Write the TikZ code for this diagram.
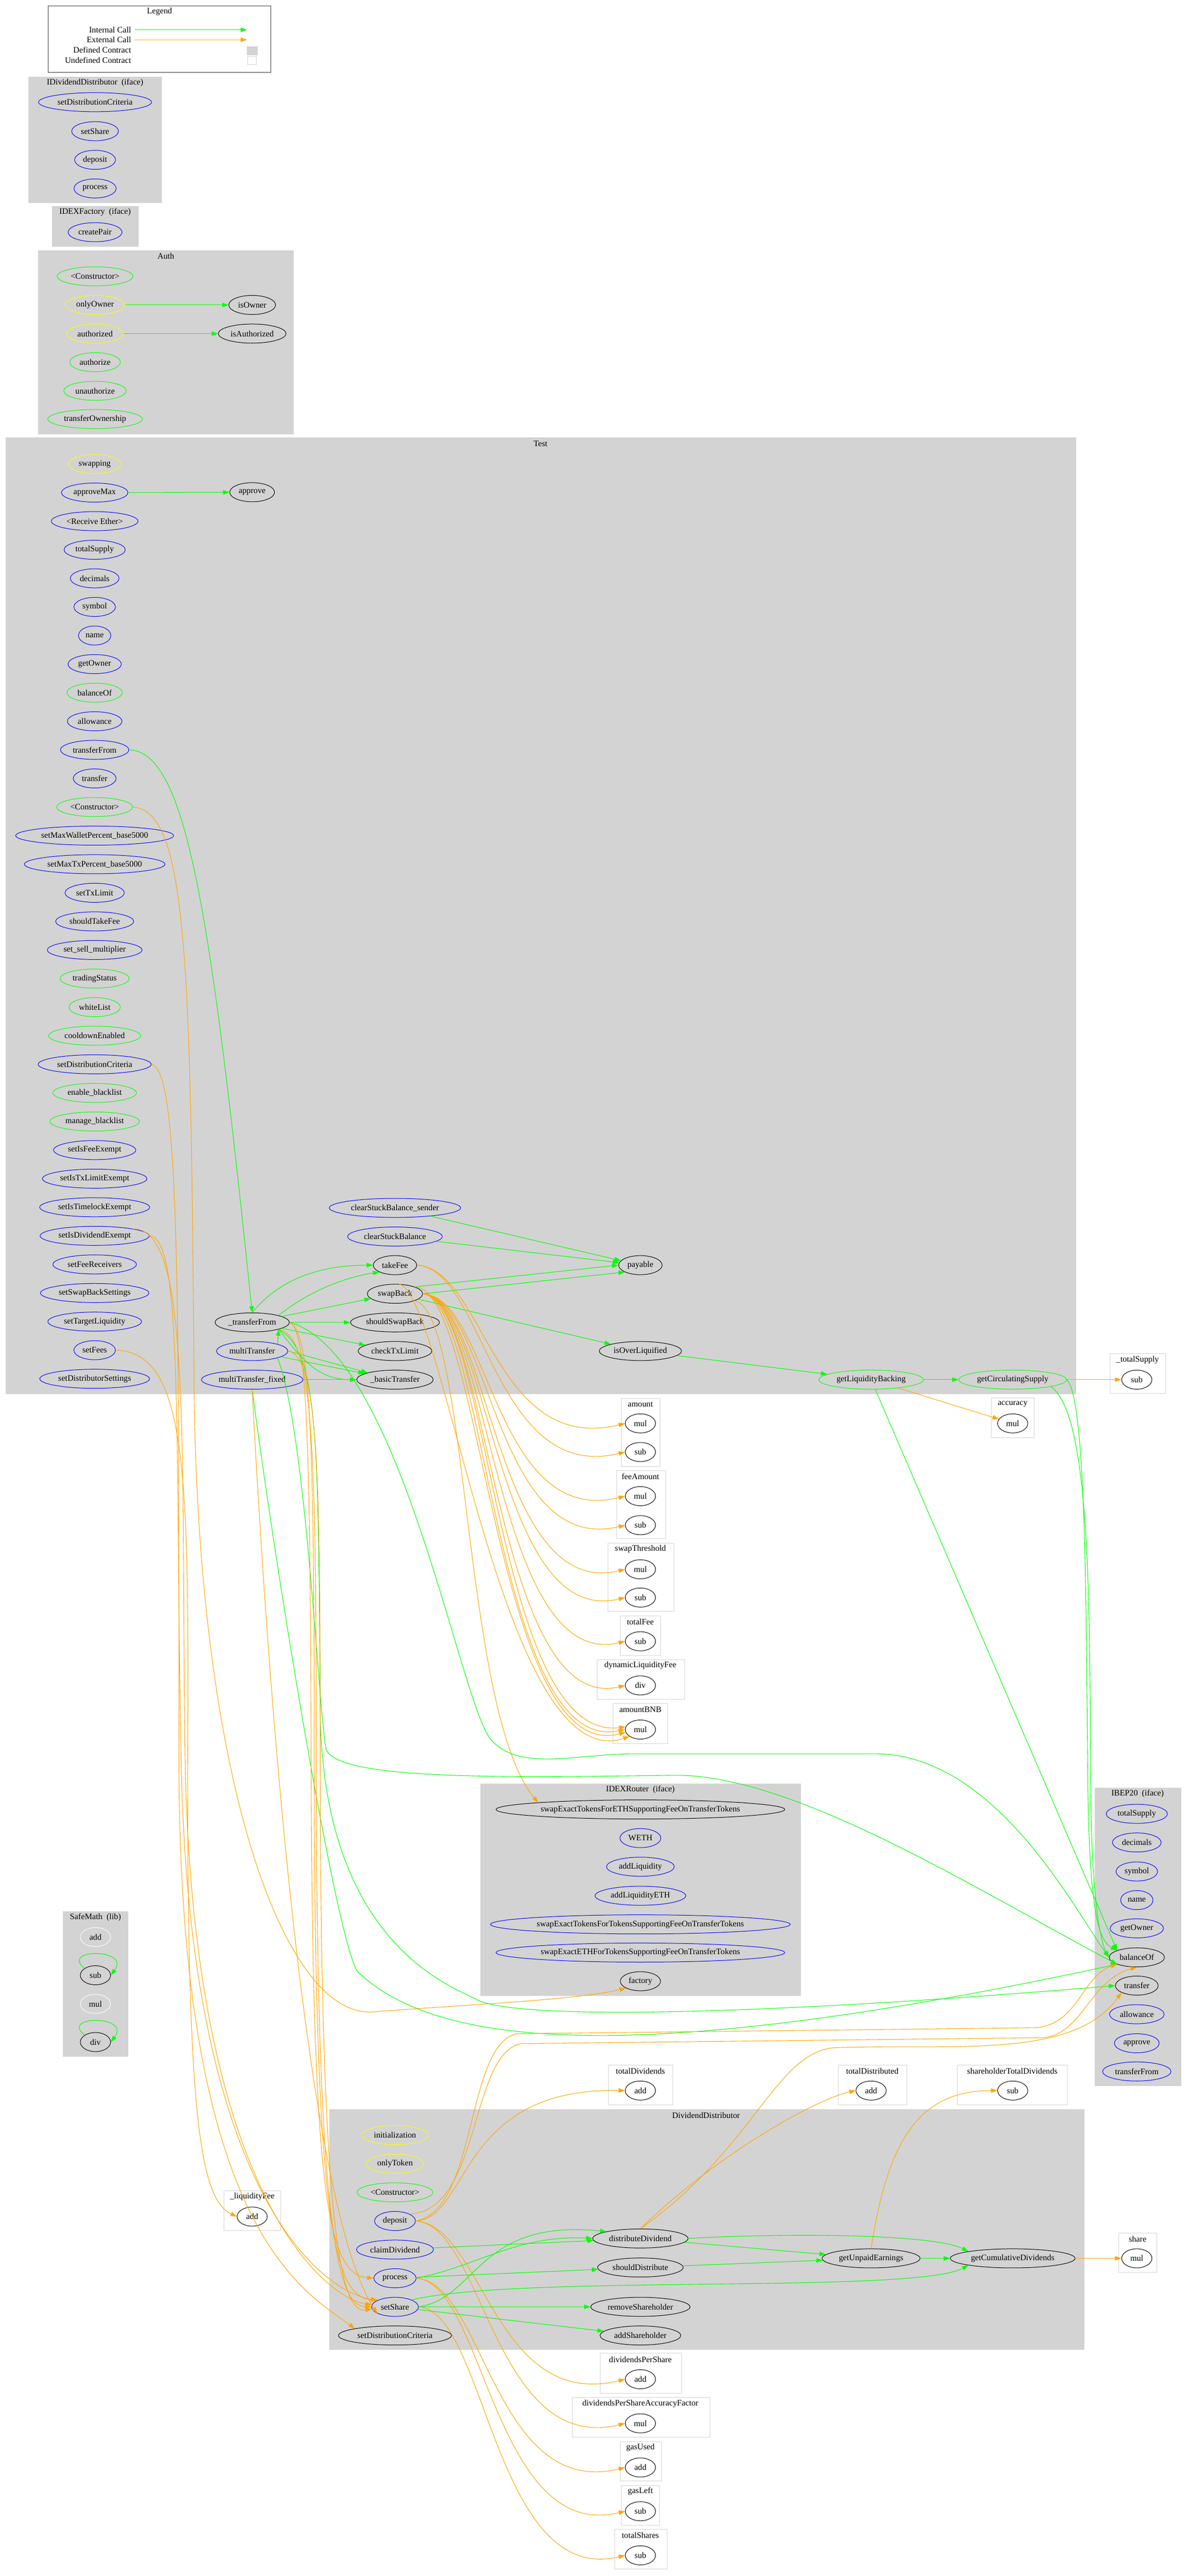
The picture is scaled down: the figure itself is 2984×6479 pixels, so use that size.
\documentclass[tikz,border=0pt]{standalone}
\usepackage{fontspec}
\setmainfont{Liberation Serif}
\usetikzlibrary{arrows.meta,shapes.geometric}
\definecolor{cG}{HTML}{00FF00}
\definecolor{cO}{HTML}{FFA500}
\definecolor{cB}{HTML}{0000FF}
\definecolor{cY}{HTML}{FFFF00}
\definecolor{cL}{HTML}{D3D3D3}
\tikzset{
 fn/.style={ellipse,draw,line width=1.3pt,minimum height=48pt,minimum width=76pt,inner xsep=6pt,inner ysep=2pt,font=\fontsize{21}{24}\selectfont},
 nb/.style={fn,draw=cB}, ng/.style={fn,draw=cG}, ny/.style={fn,draw=cY}, nk/.style={fn,draw=black}, nw/.style={fn,draw=white},
 ic/.style={draw=cG,line width=1.4pt,-{Triangle[length=16pt,width=11pt]}},
 ec/.style={draw=cO,line width=1.4pt,-{Triangle[length=16pt,width=11pt]}},
 clD/.style={fill=cL,draw=cL},
 clU/.style={fill=white,draw=cL,line width=1.2pt},
 lab/.style={font=\fontsize{21}{24}\selectfont}
}
\newcommand\ucall[2]{\draw[ec] (#1.east) .. controls +(170,10) and +(-330,80) .. (#2.west);}
\begin{document}
\begin{tikzpicture}[x=1pt,y=-1pt]
\useasboundingbox (0,0) rectangle (2984,6479);
% Legend
\draw[line width=1.5pt,draw=black!80] (121,15) rectangle (681,182);
\node[lab] at (401,29) {Legend};
\node[lab,anchor=east] at (333,75) {Internal Call};
\node[lab,anchor=east] at (333,100) {External Call};
\node[lab,anchor=east] at (333,126) {Defined Contract};
\node[lab,anchor=east] at (333,151) {Undefined Contract};
\coordinate (la1) at (338,75); \coordinate (lb1) at (621,75);
\coordinate (la2) at (338,100); \coordinate (lb2) at (621,100);
\draw[ic] (la1) -- (lb1);
\draw[ec] (la2) -- (lb2);
\fill[cL] (621,116) rectangle (648,139);
\draw[cL,line width=1.2pt] (623,142) rectangle (645,163);
% clusters
\draw[clD] (71,193) rectangle (406,509); \node[lab] at (239,208) {IDividendDistributor\ \ (iface)};
\draw[clD] (131,519) rectangle (347,620); \node[lab] at (239,533) {IDEXFactory\ \ (iface)};
\draw[clD] (96,630) rectangle (738,1091); \node[lab] at (417,644) {Auth};
\draw[clD] (15,1100) rectangle (2704,3505); \node[lab] at (1359,1116) {Test};
\draw[clU] (2790,3405) rectangle (2931,3505); \node[lab] at (2860,3420) {\_totalSupply};
\draw[clU] (2493,3516) rectangle (2600,3616); \node[lab] at (2546,3531) {accuracy};
\draw[clU] (1562,3517) rectangle (1659,3688); \node[lab] at (1610,3532) {amount};
\draw[clU] (1551,3699) rectangle (1673,3870); \node[lab] at (1610,3714) {feeAmount};
\draw[clU] (1528,3881) rectangle (1694,4053); \node[lab] at (1610,3896) {swapThreshold};
\draw[clU] (1560,4064) rectangle (1661,4164); \node[lab] at (1610,4079) {totalFee};
\draw[clU] (1501,4174) rectangle (1722,4274); \node[lab] at (1610,4189) {dynamicLiquidityFee};
\draw[clU] (1541,4285) rectangle (1678,4385); \node[lab] at (1610,4300) {amountBNB};
\draw[clD] (1208,4486) rectangle (2013,5019); \node[lab] at (1610,4501) {IDEXRouter\ \ (iface)};
\draw[clD] (2752,4497) rectangle (2969,5245); \node[lab] at (2860,4511) {IBEP20\ \ (iface)};
\draw[clD] (158,4808) rectangle (322,5172); \node[lab] at (240,4822) {SafeMath\ \ (lib)};
\draw[clU] (563,5510) rectangle (706,5610); \node[lab] at (634,5525) {\_liquidityFee};
\draw[clU] (1530,5194) rectangle (1692,5294); \node[lab] at (1610,5209) {totalDividends};
\draw[clU] (2107,5194) rectangle (2280,5294); \node[lab] at (2193,5209) {totalDistributed};
\draw[clU] (2407,5194) rectangle (2683,5294); \node[lab] at (2545,5209) {shareholderTotalDividends};
\draw[clD] (828,5305) rectangle (2725,5909); \node[lab] at (1775,5320) {DividendDistributor};
\draw[clU] (2813,5616) rectangle (2908,5715); \node[lab] at (2860,5631) {share};
\draw[clU] (1509,5919) rectangle (1713,6019); \node[lab] at (1610,5934) {dividendsPerShare};
\draw[clU] (1439,6030) rectangle (1785,6130); \node[lab] at (1610,6045) {dividendsPerShareAccuracyFactor};
\draw[clU] (1559,6141) rectangle (1663,6240); \node[lab] at (1610,6156) {gasUsed};
\draw[clU] (1562,6251) rectangle (1658,6351); \node[lab] at (1610,6266) {gasLeft};
\draw[clU] (1545,6362) rectangle (1677,6462); \node[lab] at (1610,6377) {totalShares};
% IDividendDistributor
\node[nb] (idSdc) at (239,257) {setDistributionCriteria};
\node[nb] (idSs) at (239,330) {setShare};
\node[nb] (idDep) at (239,402) {deposit};
\node[nb] (idPr) at (239,474) {process};
\node[nb] (ifCp) at (239,584) {createPair};
% Auth
\node[ng] (aC) at (239,695) {<Constructor>};
\node[ny] (aOO) at (239,767) {onlyOwner};
\node[ny] (aAu) at (239,839) {authorized};
\node[ng] (aA) at (239,911) {authorize};
\node[ng] (aU) at (239,983) {unauthorize};
\node[ng] (aTO) at (239,1054) {transferOwnership};
\node[nk] (aIO) at (634,767) {isOwner};
\node[nk] (aIA) at (634,839) {isAuthorized};
% Test column
\foreach \n/\t/\c [count=\i from 0] in {
 swp/swapping/ny, aMax/approveMax/nb, rcv/<Receive Ether>/nb, tSup/totalSupply/nb, dec/decimals/nb,
 sym/symbol/nb, nam/name/nb, gOw/getOwner/nb, bal/balanceOf/ng, alw/allowance/nb,
 tFrom/transferFrom/nb, trn/transfer/nb, ctor/<Constructor>/ng, smw/setMaxWalletPercent\_base5000/nb,
 smt/setMaxTxPercent\_base5000/nb, stl/setTxLimit/nb, stf/shouldTakeFee/nb, ssm/set\_sell\_multiplier/nb,
 trs/tradingStatus/ng, wl/whiteList/ng, cde/cooldownEnabled/ng, sdc/setDistributionCriteria/nb,
 ebl/enable\_blacklist/ng, mbl/manage\_blacklist/ng, sfe/setIsFeeExempt/nb, stle/setIsTxLimitExempt/nb,
 stie/setIsTimelockExempt/nb, sde/setIsDividendExempt/nb, sfr/setFeeReceivers/nb, ssb/setSwapBackSettings/nb,
 stgl/setTargetLiquidity/nb, sfs/setFees/nb, sds/setDistributorSettings/nb}
 { \node[\c] (t\n) at (238,{1167+71.9*\i}) {\t}; }
\node[nk] (appr) at (634,1238) {approve};
\node[nk] (tf) at (634,3326) {\_transferFrom};
\node[nb] (mt) at (634,3398) {multiTransfer};
\node[nb] (mtf) at (634,3470) {multiTransfer\_fixed};
\node[nb] (csbs) at (993,3038) {clearStuckBalance\_sender};
\node[nb] (csb) at (993,3110) {clearStuckBalance};
\node[nk] (tkf) at (993,3182) {takeFee};
\node[nk] (sb) at (993,3254) {swapBack};
\node[nk] (ssbk) at (993,3326) {shouldSwapBack};
\node[nk] (ctl) at (993,3398) {checkTxLimit};
\node[nk] (bt) at (993,3470) {\_basicTransfer};
\node[nk] (pay) at (1610,3182) {payable};
\node[nk] (iol) at (1610,3398) {isOverLiquified};
\node[ng] (glb) at (2190,3470) {getLiquidityBacking};
\node[ng] (gcs) at (2546,3470) {getCirculatingSupply};
% util nodes
\node[nk] (tsSub) at (2858,3470) {sub};
\node[nk] (accMul) at (2546,3580) {mul};
\node[nk] (amMul) at (1610,3580) {mul};
\node[nk] (amSub) at (1610,3652) {sub};
\node[nk] (faMul) at (1610,3763) {mul};
\node[nk] (faSub) at (1610,3836) {sub};
\node[nk] (stMul) at (1610,3947) {mul};
\node[nk] (stSub) at (1610,4018) {sub};
\node[nk] (tfSub) at (1610,4128) {sub};
\node[nk] (dlDiv) at (1610,4239) {div};
\node[nk] (abMul) at (1610,4350) {mul};
% IDEXRouter
\node[nk] (rSE) at (1610,4551) {swapExactTokensForETHSupportingFeeOnTransferTokens};
\node[nb] (rW) at (1610,4623) {WETH};
\node[nb] (rAL) at (1610,4695) {addLiquidity};
\node[nb] (rALE) at (1610,4768) {addLiquidityETH};
\node[nb] (rST) at (1610,4840) {swapExactTokensForTokensSupportingFeeOnTransferTokens};
\node[nb] (rSET) at (1610,4911) {swapExactETHForTokensSupportingFeeOnTransferTokens};
\node[nk] (rF) at (1610,4983) {factory};
% IBEP20
\node[nb] (iTS) at (2858,4562) {totalSupply};
\node[nb] (iDe) at (2858,4634) {decimals};
\node[nb] (iSy) at (2858,4707) {symbol};
\node[nb] (iNa) at (2858,4779) {name};
\node[nb] (iGO) at (2858,4850) {getOwner};
\node[nk] (iBal) at (2858,4923) {balanceOf};
\node[nk] (iTr) at (2858,4994) {transfer};
\node[nb] (iAl) at (2858,5066) {allowance};
\node[nb] (iAp) at (2858,5139) {approve};
\node[nb] (iTF) at (2858,5210) {transferFrom};
% SafeMath
\node[nw] (smAdd) at (240,4872) {add};
\node[nk] (smSub) at (240,4968) {sub};
\node[nw] (smMul) at (240,5040) {mul};
\node[nk] (smDiv) at (240,5136) {div};
% misc
\node[nk] (lfAdd) at (634,5575) {add};
\node[nk] (tdAdd) at (1610,5258) {add};
\node[nk] (tdsAdd) at (2190,5258) {add};
\node[nk] (shSub) at (2546,5258) {sub};
% DividendDistributor
\node[ny] (dIni) at (993,5370) {initialization};
\node[ny] (dOT) at (993,5442) {onlyToken};
\node[ng] (dC) at (993,5514) {<Constructor>};
\node[nb] (dDep) at (993,5586) {deposit};
\node[nb] (dCl) at (993,5658) {claimDividend};
\node[nb] (dPr) at (993,5730) {process};
\node[nb] (dSs) at (993,5802) {setShare};
\node[nk] (dSdc) at (993,5874) {setDistributionCriteria};
\node[nk] (dDD) at (1610,5630) {distributeDividend};
\node[nk] (dSD) at (1610,5703) {shouldDistribute};
\node[nk] (dRS) at (1610,5802) {removeShareholder};
\node[nk] (dAS) at (1610,5874) {addShareholder};
\node[nk] (dGU) at (2190,5680) {getUnpaidEarnings};
\node[nk] (dGC) at (2546,5680) {getCumulativeDividends};
\node[nk] (shMul) at (2858,5680) {mul};
\node[nk] (dpsAdd) at (1610,5984) {add};
\node[nk] (dpsaMul) at (1610,6095) {mul};
\node[nk] (guAdd) at (1610,6206) {add};
\node[nk] (glSub) at (1610,6316) {sub};
\node[nk] (tshSub) at (1610,6427) {sub};
% ===== edges =====
\draw[ic] (aOO) -- (aIO);
\draw[ic] (aAu) -- (aIA);
\draw[ic] (taMax) -- (appr);
\draw[ic] (ttFrom.east) .. controls (470,1890) and (530,2300) .. (tf.north);
\draw[ec] (tctor.east) .. controls (470,2040) and (480,2400) .. (488,3500) .. controls (500,4500) and (720,5080) .. (940,5060) .. controls (1200,5040) and (1450,5030) .. (rF.south west);
\draw[ec] (tsdc.east) .. controls (450,2690) and (450,3200) .. (450,4400) .. controls (445,5600) and (760,5760) .. (dSdc.north west);
\draw[ec] (tsde.east) .. controls (460,3110) and (440,3600) .. (455,4400) .. controls (470,5500) and (800,5760) .. (dSs.160);
\draw[ec] (tsde.north east) .. controls (480,3090) and (455,3600) .. (465,4400) .. controls (480,5520) and (820,5780) .. (dSs.175);
\draw[ec] (tsfs.east) .. controls (470,3400) and (475,3700) .. (472,4400) .. controls (470,5300) and (500,5530) .. (lfAdd.west);
% _transferFrom internal
\draw[ic] (tf.north) .. controls (700,3220) and (800,3182) .. (tkf.west);
\draw[ic] (tf.north east) .. controls (760,3260) and (850,3215) .. (tkf.south west);
\draw[ic] (tf) -- (sb);
\draw[ic] (tf) -- (ssbk);
\draw[ic] (tf) -- (ctl);
\draw[ic] (tf.south east) .. controls (760,3420) and (800,3470) .. (bt.west);
\draw[ic] (mt) -- (bt);
\draw[ic] (mt.east) -- (bt.north west);
\draw[ic] (mt.north east) -- (tf.south east);
\draw[ic] (mtf) -- (bt);
\draw[ic] (csbs) -- (pay);
\draw[ic] (csb) -- (pay);
\draw[ic] (sb.north east) -- (pay.west);
\draw[ic] (sb.east) -- (pay.south west);
\draw[ic] (sb) -- (iol);
\draw[ic] (iol) -- (glb);
\draw[ic] (glb) -- (gcs);
\draw[ec] (gcs) -- (tsSub);
\draw[ec] (glb) -- (accMul);
\draw[ic] (glb) -- (iBal.north west);
\draw[ic] (gcs.east) .. controls (2730,3520) and (2730,4000) .. (2735,4500) .. controls (2740,4800) and (2760,4880) .. (iBal.north west);
\draw[ic] (gcs.south east) .. controls (2740,3560) and (2740,4000) .. (2742,4500) .. controls (2745,4800) and (2770,4890) .. (iBal.west);
% external from takeFee / swapBack
\ucall{tkf}{amMul}
\ucall{tkf}{amSub}
\ucall{sb}{faMul}
\ucall{sb}{faSub}
\ucall{sb}{stMul}
\ucall{sb}{stSub}
\ucall{sb}{tfSub}
\ucall{sb}{dlDiv}
\draw[ec] (sb.east) .. controls +(170,10) and +(-330,40) .. (abMul.170);
\draw[ec] (sb.east) .. controls +(160,20) and +(-330,70) .. (abMul.west);
\draw[ec] (sb.north east) .. controls +(170,0) and +(-330,90) .. (abMul.190);
\draw[ec] (sb.north) .. controls +(120,-40) and +(-330,110) .. (abMul.south west);
\draw[ec] (sb.south east) .. controls (1180,3300) and (1160,4300) .. (rSE.north west);
% long green to IBEP20
\draw[ic] (tf.east) .. controls (1000,3400) and (1150,4250) .. (1230,4370) .. controls (1300,4460) and (1450,4410) .. (1600,4411) -- (2200,4411) .. controls (2500,4411) and (2700,4800) .. (iBal.west);
\draw[ic] (mt.south east) .. controls (770,3600) and (800,4300) .. (820,4400) .. controls (850,4480) and (1300,4470) .. (1700,4465) .. controls (2000,4465) and (2450,4750) .. (iBal.south west);
\draw[ic] (mtf.south) .. controls (700,4000) and (850,4900) .. (900,4960) .. controls (1100,5150) and (1600,5200) .. (iBal.south west);
\draw[ic] (tf.south east) .. controls (800,3400) and (800,3600) .. (805,4300) .. controls (810,4900) and (1150,5000) .. (1200,5030) .. controls (1300,5080) and (1900,5070) .. (iTr.west);
% Test -> DividendDistributor
\draw[ec] (tf.east) .. controls (780,3350) and (790,3600) .. (790,4400) .. controls (790,5600) and (840,5780) .. (dSs.north west);
\draw[ec] (tf.south east) .. controls (785,3360) and (795,3600) .. (795,4400) .. controls (795,5620) and (850,5800) .. (dSs.west);
\draw[ec] (tf.east) .. controls (770,3340) and (780,3600) .. (782,4400) .. controls (785,5500) and (820,5720) .. (dPr.west);
\draw[ec] (mt.east) .. controls (800,3410) and (805,3700) .. (805,4400) .. controls (805,5640) and (860,5820) .. (dSs.185);
\draw[ec] (mtf.south) .. controls (650,3800) and (740,5500) .. (dSs.200);
% SafeMath loops
\draw[ic] (smSub.north west) .. controls (150,4900) and (330,4900) .. (smSub.east);
\draw[ic] (smDiv.north west) .. controls (150,5068) and (330,5068) .. (smDiv.east);
% DividendDistributor external
\draw[ec] (dDep.east) .. controls (1180,5580) and (1150,5250) .. (tdAdd.west);
\draw[ec] (dDep.east) .. controls (1200,5560) and (1170,5140) .. (1300,5115) -- (2600,5100) .. controls (2710,5095) and (2720,4970) .. (iBal.south west);
\draw[ec] (dDep.north east) .. controls (1210,5560) and (1180,5165) .. (1310,5140) -- (2620,5125) .. controls (2720,5120) and (2740,4980) .. (iBal.south);
\draw[ec] (dDD.north) .. controls (1900,5400) and (1950,5160) .. (2100,5150) .. controls (2400,5140) and (2700,5180) .. (iTr.south west);
\draw[ec] (dDD.north) .. controls (1800,5420) and (2050,5280) .. (tdsAdd.west);
\draw[ec] (dGU.north) .. controls (2230,5400) and (2300,5258) .. (shSub.west);
\ucall{dDep}{dpsAdd}
\ucall{dDep}{dpsaMul}
\ucall{dPr}{guAdd}
\ucall{dPr}{glSub}
\ucall{dSs}{tshSub}
\draw[ec] (dGC) -- (shMul);
% DividendDistributor internal
\draw[ic] (dCl) -- (dDD);
\draw[ic] (dPr.east) .. controls (1200,5700) and (1300,5620) .. (dDD.west);
\draw[ic] (dPr) -- (dSD);
\draw[ic] (dSs.east) .. controls (1200,5780) and (1200,5580) .. (dDD.north west);
\draw[ic] (dSs) -- (dRS);
\draw[ic] (dSs) -- (dAS);
\draw[ic] (dSs.north east) .. controls (1300,5720) and (2300,5770) .. (dGC.south west);
\draw[ic] (dDD) -- (dGU);
\draw[ic] (dDD.east) .. controls (2000,5615) and (2350,5620) .. (dGC.north west);
\draw[ic] (dSD) -- (dGU);
\draw[ic] (dGU) -- (dGC);
\end{tikzpicture}
\end{document}
